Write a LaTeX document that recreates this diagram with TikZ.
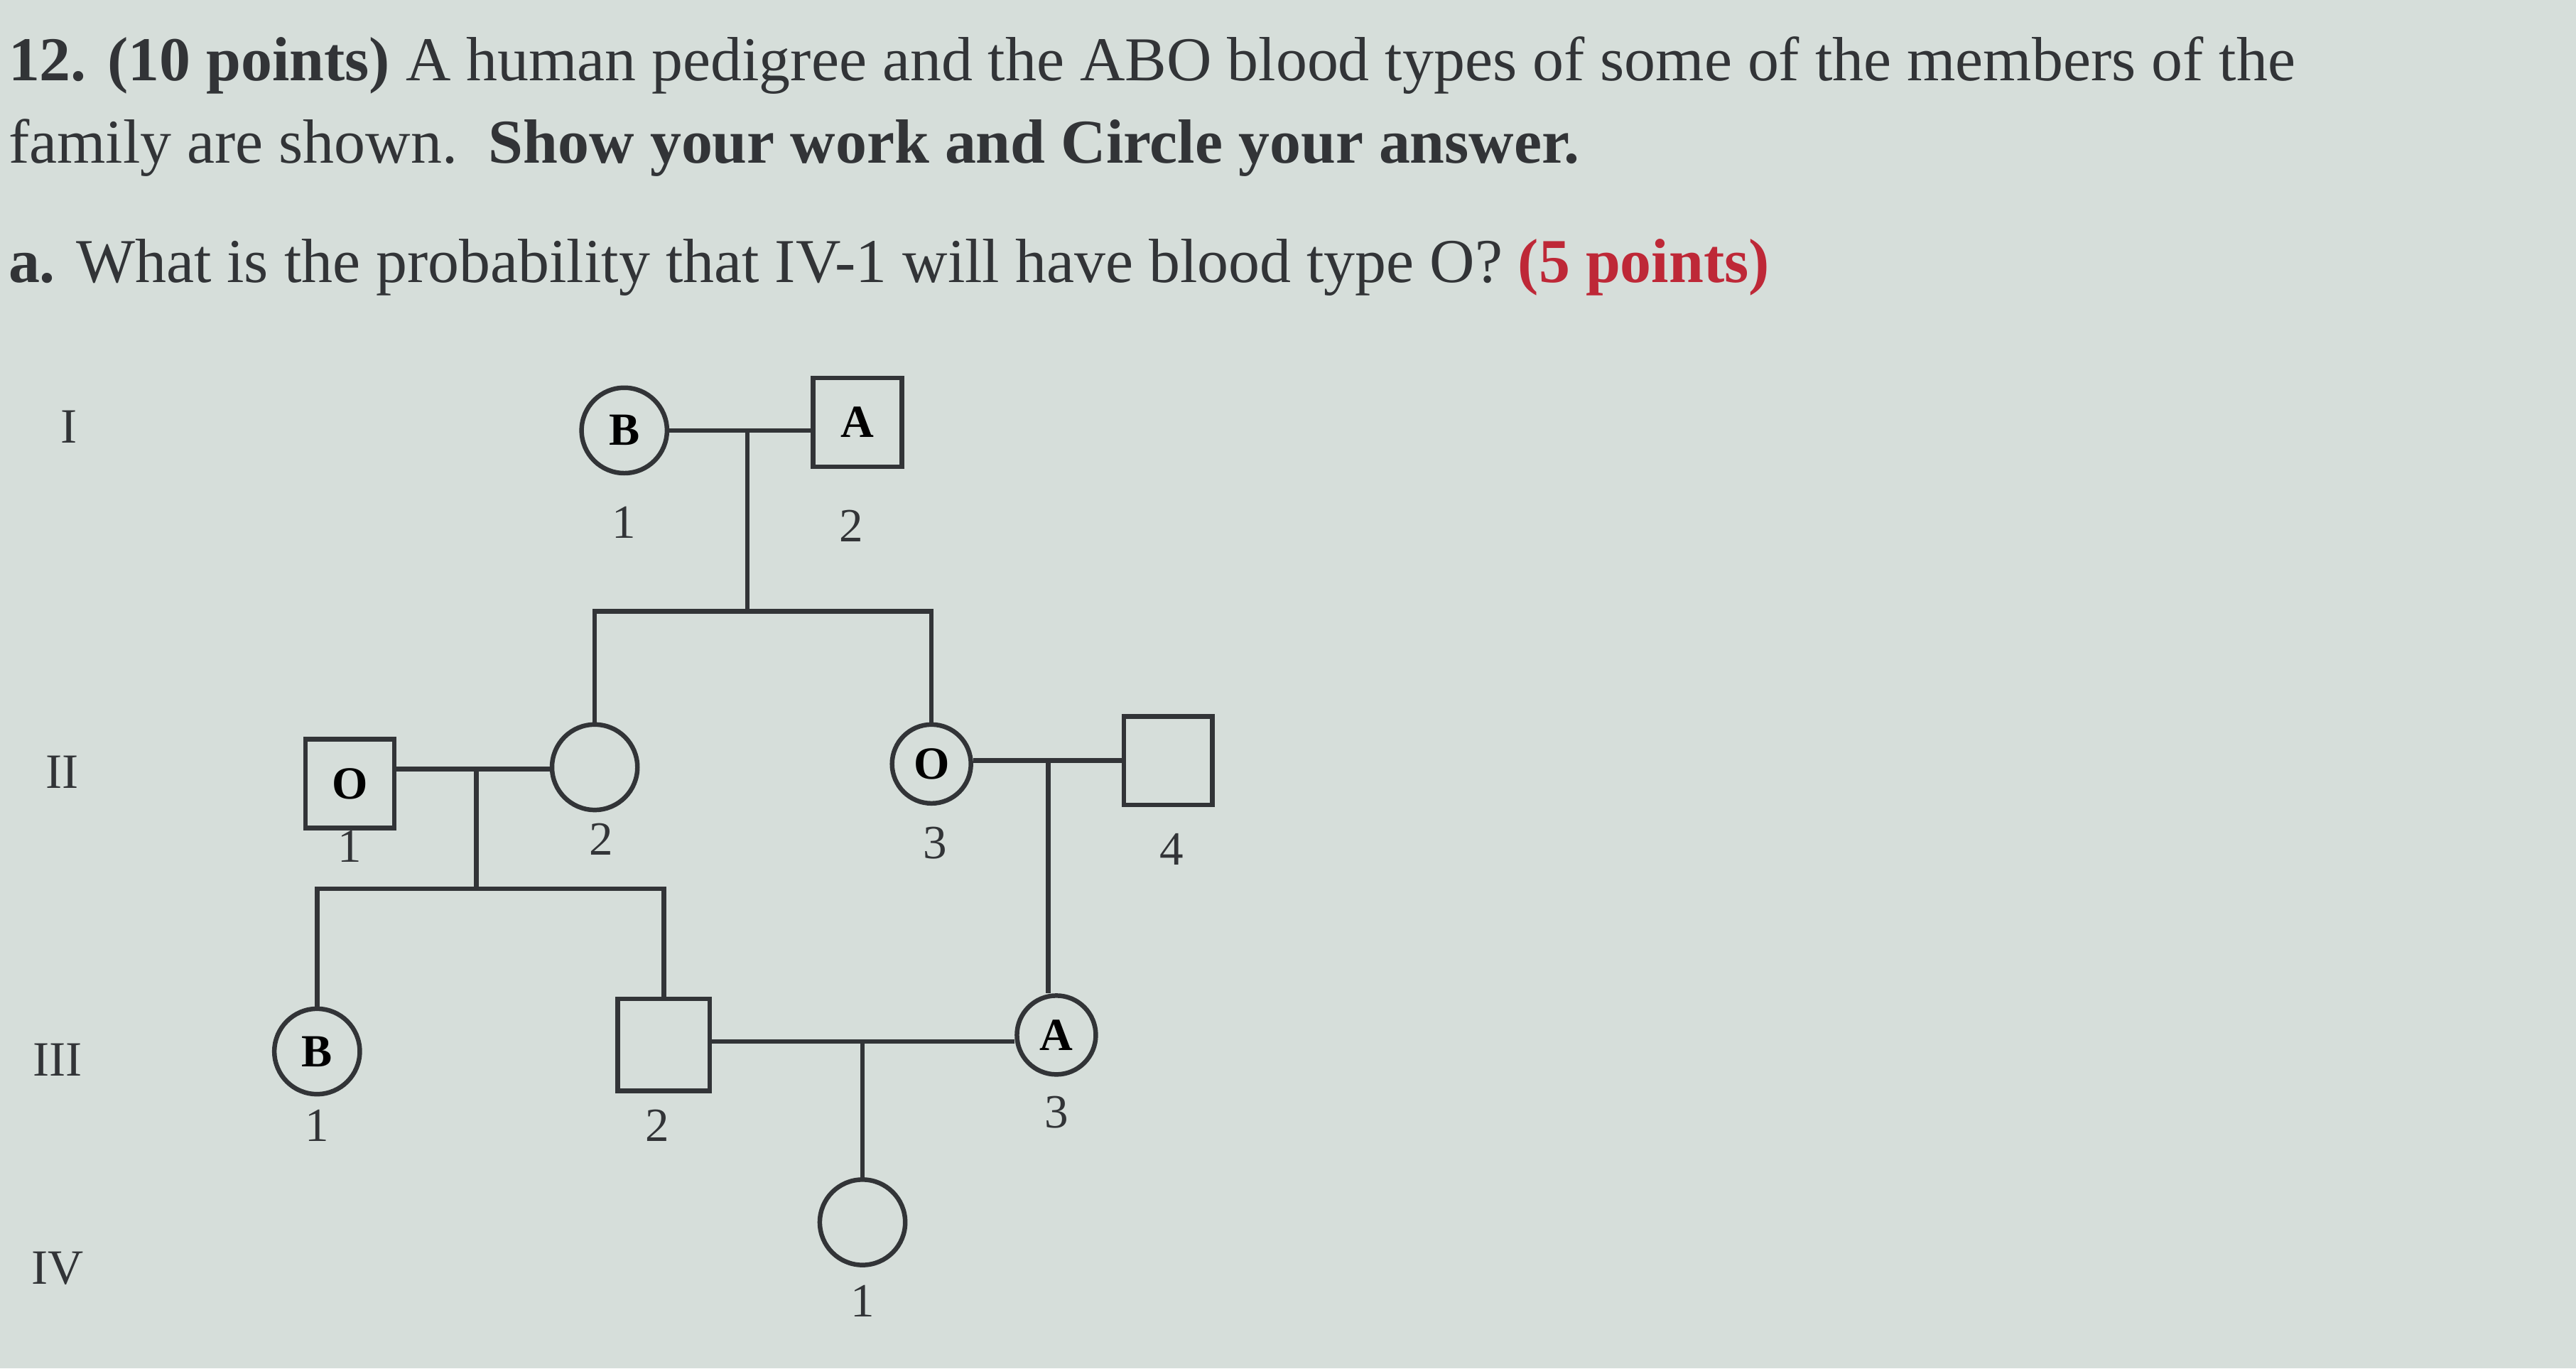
\documentclass[tikz,border=0pt]{standalone}
\usepackage{fontspec}
\setmainfont{Liberation Serif}
\definecolor{bg}{RGB}{214,222,218}
\definecolor{ink}{RGB}{50,52,55}
\definecolor{redp}{RGB}{190,40,55}
\tikzset{
 circ/.style={circle,draw=ink,line width=2.8pt,fill=bg,minimum size=52pt,inner sep=0pt,font=\fontsize{28}{30}\selectfont\bfseries},
 sq/.style={rectangle,draw=ink,line width=2.8pt,fill=bg,minimum size=54pt,inner sep=0pt,font=\fontsize{28}{30}\selectfont\bfseries},
 lbl/.style={font=\fontsize{29}{31}\selectfont,text=ink},
 gen/.style={font=\fontsize{30}{32}\selectfont,text=ink},
 ln/.style={draw=ink,line width=2.8pt},
 ttl/.style={anchor=west,font=\fontsize{38}{40}\selectfont,text=ink,inner sep=0pt}
}
\begin{document}
\begin{tikzpicture}[x=1pt,y=-1pt]
\fill[bg] (0,0) rectangle (1568,833);
\useasboundingbox (0,0) rectangle (1568,833);
\node[ttl] (t1) at (5,40) {\textbf{12. (10 points)} A human pedigree and the ABO blood types of some of the members of the};
\node[ttl] (t2) at (5,90) {family are shown.\ \ \textbf{Show your work and Circle your answer.}};
\node[ttl] (t3) at (5,163) {\textbf{a.} What is the probability that IV-1 will have blood type O? \textbf{\color{redp}(5 points)}};
\node[gen] (g1) at (42,260) {I};
\node[gen] (g2) at (38,470) {II};
\node[gen] (g3) at (35,645) {III};
\node[gen] (g4) at (35,772) {IV};
% generation I
\node[circ] (i1) at (380,262) {B};
\node[sq] (i2) at (522,257) {A};
\node[lbl] at (380,318) {1};
\node[lbl] at (518,320) {2};
% generation II
\node[sq] (ii1) at (213,477) {O};
\node[circ] (ii2) at (362,467) {};
\node[circ,minimum size=48pt] (ii3) at (567,465) {O};
\node[sq] (ii4) at (711,463) {};
\node[lbl] at (213,515) {1};
\node[lbl] at (366,511) {2};
\node[lbl] at (569,513) {3};
\node[lbl] at (713,517) {4};
% generation III
\node[circ] (iii1) at (193,640) {B};
\node[sq,minimum size=56pt] (iii2) at (404,636) {};
\node[circ,minimum size=48pt] (iii3) at (643,630) {A};
\node[lbl] at (193,685) {1};
\node[lbl] at (400,685) {2};
\node[lbl] at (643,677) {3};
% generation IV
\node[circ] (iv1) at (525,744) {};
\node[lbl] at (525,792) {1};
% connectors
\coordinate (m1) at (455,262);
\coordinate (m2) at (290,468);
\coordinate (m3) at (638,463);
\coordinate (m4) at (525,634);
\draw[ln] (i1.east) -- (i1.east -| i2.west);
\draw[ln] (m1) -- (455,372) coordinate (b1);
\draw[ln] (ii2.north) |- (b1) -| (ii3.north);
\draw[ln] (ii1.east |- m2) -- (ii2.west |- m2);
\draw[ln] (m2) -- (290,541) coordinate (b2);
\draw[ln] (iii1.north) |- (b2) -| (iii2.north);
\draw[ln] (ii3.east |- m3) -- (ii4.west |- m3);
\draw[ln] (m3) -- (m3 |- iii3.north);
\draw[ln] (iii2.east |- m4) -- (iii3.west |- m4);
\draw[ln] (m4) -- (iv1.north);
\end{tikzpicture}
\end{document}
